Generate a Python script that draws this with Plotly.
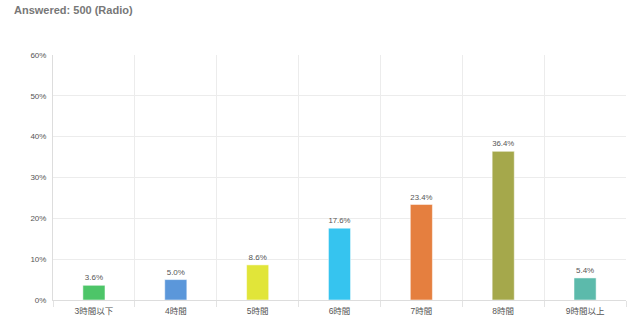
import plotly.graph_objects as go

categories = ["3時間以下", "4時間", "5時間", "6時間", "7時間", "8時間", "9時間以上"]
values = [3.6, 5.0, 8.6, 17.6, 23.4, 36.4, 5.4]
colors = ["#4dc568", "#5b97da", "#e1e539", "#36c4ef", "#e57f3f", "#a5a84b", "#5cbaab"]
labels = [f"{v:.1f}%" for v in values]
tick_vals = [0, 10, 20, 30, 40, 50, 60]
tick_text = [f"{t}%" for t in tick_vals]

font_family = "Liberation Sans, Arial, Noto Sans CJK JP, sans-serif"

fig = go.Figure(go.Bar(
    x=categories, y=values, text=labels, textposition="outside",
    textfont=dict(size=8, color="#555555", family=font_family),
    marker=dict(color=colors, line=dict(color="rgba(255,255,255,0.5)", width=1)),
    width=0.27, cliponaxis=False,
))

fig.update_layout(
    template="none",
    width=640, height=332,
    margin=dict(l=53, r=14, t=55, b=32),
    paper_bgcolor="white", plot_bgcolor="white",
    showlegend=False,
    font=dict(family=font_family, size=8, color="#555555"),
    annotations=[dict(
        text="<b>Answered: 500 (Radio)</b>", xref="paper", yref="paper",
        x=-41/573, y=1 + (55 - 10) / 245,
        showarrow=False, xanchor="left", yanchor="middle",
        font=dict(size=11, color="#777777"),
    )],
)

fig.update_xaxes(
    type="category", tickson="boundaries", showgrid=True, gridcolor="#ececec", gridwidth=1,
    ticks="outside", ticklen=6, tickcolor="#e3e3e3", tickwidth=1,
    ticklabelstandoff=3,
    showline=True, linecolor="#dddddd", linewidth=1,
    tickfont=dict(size=8.5, color="#555555"),
)
fig.update_yaxes(
    range=[0, 60], tickvals=tick_vals, ticktext=tick_text,
    showgrid=True, gridcolor="#ececec", gridwidth=1,
    showline=True, linecolor="#dddddd", linewidth=1,
    ticks="outside", ticklen=4, tickcolor="white",
    zeroline=False, tickfont=dict(size=8, color="#555555"),
)

fig.write_html("out.html")
